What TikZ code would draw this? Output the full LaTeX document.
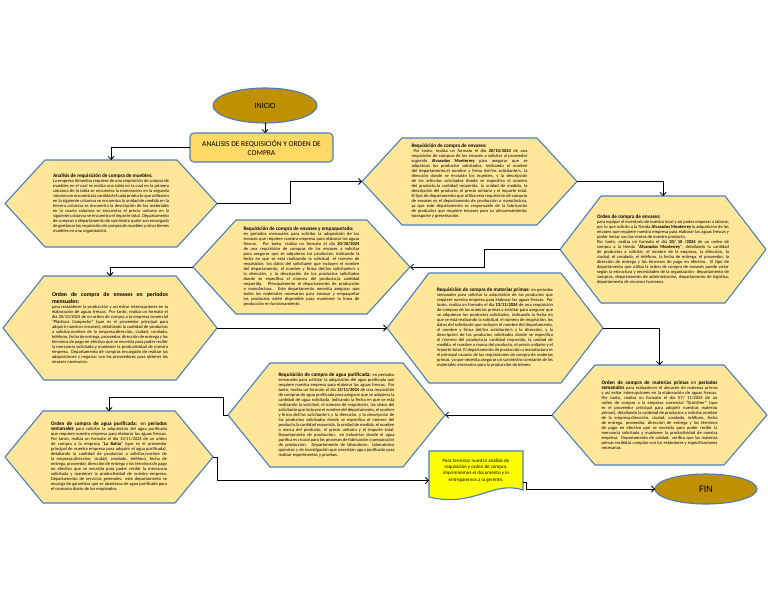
\documentclass[tikz,border=0pt]{standalone}
\usepackage{fontspec}
\setmainfont{Carlito}
\usepackage{xcolor}
\usetikzlibrary{shapes.geometric,backgrounds,calc,arrows.meta}
\definecolor{hexfill}{RGB}{255,230,153}
\definecolor{hexline}{RGB}{74,126,187}
\definecolor{boxfill}{RGB}{255,217,102}
\definecolor{ovalfill}{RGB}{191,144,0}
\definecolor{notefill}{RGB}{255,255,0}
\tolerance=9999
\emergencystretch=8pt
\hyphenpenalty=10000

\begin{document}
\begin{tikzpicture}[x=1pt,y=1pt,yscale=-1,xscale=1,
	hexnode/.style={rectangle,inner sep=0pt,outer sep=0pt,text width=116pt,align=justify,font=\fontsize{4.5}{5}\selectfont},
	hexa/.style={draw=hexline,fill=hexfill,line width=1.1pt,line join=round},
	oval/.style={ellipse,draw=hexline,fill=ovalfill,line width=1.1pt,inner sep=0pt,outer sep=0pt},
	conn/.style={line width=0.8pt,-{Straight Barb[length=3pt,width=6pt]}}]
	\useasboundingbox (0,0) rectangle (768,594);
	
	% Terminal: inicio
	\node [oval,minimum width=104pt,minimum height=35pt,font=\fontsize{8}{9}\selectfont] (inicio) at (265,105.5) {INICIO};
	% Text Node
	\node [draw=hexline,fill=boxfill,line width=1.1pt,rounded corners=4pt,minimum width=143pt,minimum height=29pt,inner sep=0pt,outer sep=0pt,align=center,font=\fontsize{7.5}{9}\selectfont] (analisis) at (261.5,147.5) {ANALISIS DE REQUISICIÓN Y ORDEN DE\\COMPRA};
	
	% Text Node
	\node [hexnode,minimum width=212pt,minimum height=87pt] (muebles) at (111,203.5) {{\bfseries\fontsize{5.2}{6}\selectfont Analisis de requisición de compra de muebles:}\par
		La empresa Aimedina requiere de una requisición de compra de muebles en el cual se realiza una tabla en la cual en la primera columna de la tabla se encuentra la numeración en la segunda columna se encuentra la cantidad el cada producto que utilizaron en la siguiente columna se encuentra la unidad de medida en la tercera columna se encuentra la descripción de los materiales en la cuarta columna se encuentra el precio unitario en la siguiente columna se encuentra el importe total. Departamento de compras o departamento de suministro quién son encargado de gestionar las requisición de compra de muebles y otros bienes muebles en una organización.};
	% Text Node
	\node [hexnode,minimum width=215pt,minimum height=87pt] (envases) at (469.5,181.5) {{\bfseries\fontsize{5.2}{6}\selectfont Requisición de compra de envases:}\par
		\hspace*{2pt}Por tanto, realiza un formato el día \textbf{20/10/2024} de una requisición de compras de los envases a solicitar al proveedor sugerido \textbf{Alvarados Monterrey} para asegurar que se adquieran los productos solicitados, indicando el nombre del departamento,el nombre y firma del/los solicitante/s, la dirección donde se enviarán los muebles, y la descripción de los artículos solicitados donde se especifica el número del producto,la cantidad requerida, la unidad de medida, la descripción del producto, el precio unitario y el importe total. El tipo de departamento que utiliza esta requisición de compras de envases es el departamento de producción o manufactura, ya que este departamento es responsable de la fabricación de productos que requiere envases para su almacenamiento, transporte y presentación.};
	% Text Node
	\node [hexnode,text width=132pt,minimum width=206pt,minimum height=107pt] (ordenvases) at (663,249.5) {{\bfseries\fontsize{5.2}{6}\selectfont Orden de compra de envases:}\par
		para equipar el inventario de nuestro local y así poder empezar a laborar, por lo que solicito a la Tienda \textbf{Alvarados Monterrey} la adquisición de los envases que requiere nuestra empresa para elaborar las aguas frescas y poder iniciar con las ventas de nuestro producto.\par
		Por tanto, realiza un formato el día \textbf{20/ 10 /2024} de un orden de compra a la tienda “\textbf{Alvarados Monterrey}”, detallando la cantidad de productos a solicitar, el nombre de la empresa, la dirección, la ciudad, el condado, el teléfono, la fecha de entrega, el proveedor, la dirección de entrega y los términos de pago en efectivo. El tipo de departamento que utiliza la orden de compra de envases puede variar según la estructura y necesidades de la organización: departamento de compras, departamento de administración, departamento de logística, departamento de recursos humanos.};
	% Text Node
	\node [hexnode,minimum width=217pt,minimum height=94pt] (empaque) at (301.5,267) {{\bfseries\fontsize{5.2}{6}\selectfont Requisición de compra de envases y empaquetado:}\par
		en periodos mensuales para solicitar la adquisición de los envases que requiere nuestra empresa para elaborar las aguas frescas. Por tanto, realiza un formato el día \textbf{20/10/2024} de una requisición de compras de los envases a solicitar para asegurar que se adquieran los productos, indicando la fecha en que se está realizando la solicitud, el número de requisición, los datos del solicitante que incluyen el nombre del departamento, el nombre y firma del/los solicitante/s y la dirección, y la descripción de los productos solicitados donde se especifica el número del producto,la cantidad requerida. Principalmente el departamento de producción o manufactura. Este departamento necesita asegurar que todos los materiales necesarios para envasar y empaquetar los productos estén disponible para mantener la línea de producción en funcionamiento.};
	% Text Node
	\node [hexnode,minimum width=214pt,minimum height=104pt] (mensual) at (110,328) {{\bfseries\fontsize{5.8}{7}\selectfont Orden de compra de envases en periodos mensuales:\par}
		para restablecer la producción y así evitar interrupciones en la elaboración de aguas frescas. Por tanto, realiza un formato el día 20/10/2024 de un orden de compra a la empresa comercial “Plásticos Campeche” (que es el proveedor principal para adquirir nuestros envases), detallando la cantidad de productos a solicitar,nombre de la empresa,dirección, ciudad, condado, teléfono, fecha de entrega, proveedor, dirección de entrega y los términos de pago en efectivo que se necesita para poder recibir la mercancía solicitada y mantener la productividad de nuestra empresa. Departamento de compras encargado de realizar las adquisiciones y negociar con los proveedores para obtener los envases necesarios.};
	% Text Node
	\node [hexnode,minimum width=216pt,minimum height=110pt] (materias) at (495,328) {{\bfseries\fontsize{5.2}{6}\selectfont Requisición de compra de materias primas:} en periodos semanales para solicitar la adquisición de los productos que requiere nuestra empresa para elaborar las aguas frescas. Por tanto, realiza un formato el día \textbf{13/11/2024} de una requisición de compras de las materias primas a solicitar para asegurar que se adquieran los productos solicitados, indicando la fecha en que se está realizando la solicitud, el número de requisición, los datos del solicitante que incluyen el nombre del departamento, el nombre y firma del/los solicitante/s y la dirección, y la descripción de los productos solicitados donde se especifica el número del producto,la cantidad requerida, la unidad de medida, el nombre o marca del producto, el precio unitario y el importe total. El departamento de producción o manufactura es el principal usuario de las requisiciones de compra de materias primas, ya que necesita asegurar un suministro constante de los materiales necesarios para la producción de bienes.};
	% Text Node
	\node [hexnode,minimum width=215pt,minimum height=100pt] (ordmaterias) at (659.5,415) {{\bfseries\fontsize{5.2}{6}\selectfont Orden de compra de materias primas} {\fontsize{5.2}{6}\selectfont en} {\bfseries\fontsize{5.2}{6}\selectfont periodos semanales} para reabastecer el almacén de materias primas y así evitar interrupciones en la elaboración de aguas frescas. Por tanto, realiza un formato el día 07/ 11/2024 de un orden de compra a la empresa comercial “Drolsther” (que es el proveedor principal para adquirir nuestras materias primas), detallando la cantidad de productos a solicitar,nombre de la empresa,dirección, ciudad, condado, teléfono, fecha de entrega, proveedor, dirección de entrega y los términos de pago en efectivo que se necesita para poder recibir la mercancía solicitada y mantener la productividad de nuestra empresa. Departamento de calidad: verifica que las materias primas recibidas cumplan con los estándares y especificaciones necesarias.};
	% Text Node
	\node [hexnode,minimum width=217pt,minimum height=104pt] (agua) at (336.5,415) {{\bfseries\fontsize{5.2}{6}\selectfont Requisición de compra de agua purificada:} en periodos semanales para solicitar la adquisición del agua purificada que requiere nuestra empresa para elaborar las aguas frescas. Por tanto, realiza un formato el día \textbf{13/11/2024} de una requisición de compras de agua purificada para asegurar que se adquiera la cantidad de agua solicitada, indicando la fecha en que se está realizando la solicitud, el número de requisición, los datos del solicitante que incluyen el nombre del departamento, el nombre y firma del/los solicitante/s y la dirección, y la descripción de los productos solicitados donde se especifica el número del producto,la cantidad requerida, la unidad de medida, el nombre o marca del producto, el precio unitario y el importe total. Departamento de producción: en industrias donde el agua purifica es crucial para los procesos de fabricación o preparación de producción. Departamento de laboratorio: laboratorios químicos y de investigación que necesitan agua purificada para realizar experimentos y pruebas.};
	% Text Node
	\node [hexnode,minimum width=208pt,minimum height=92pt] (ordagua) at (109,457) {{\bfseries\fontsize{5.2}{6}\selectfont Orden de compra de agua purificada:} {\fontsize{5.2}{6}\selectfont en} {\bfseries\fontsize{5.2}{6}\selectfont periodos semanales} para solicitar la adquisición del agua purificada que requiere nuestra empresa para elaborar las aguas frescas. Por tanto, realiza un formato el día 13/11/2024 de un orden de compra a la empresa “\textbf{La Bahía}” (que es el proveedor principal de nuestra empresa para adquirir el agua purificada), detallando la cantidad de productos a solicitar,nombre de la empresa,dirección, ciudad, condado, teléfono, fecha de entrega, proveedor, dirección de entrega y los términos de pago en efectivo que se necesita para poder recibir la mercancía solicitada y mantener la productividad de nuestra empresa. Departamento de servicios generales: este departamento se encarga de garantizar que se abastezca de agua purificada para el consumo diario de los empleados.};
	
	% Text Node
	\node [rectangle,minimum width=94pt,minimum height=39pt,inner sep=0pt,outer sep=0pt,align=center,font=\fontsize{5}{6.3}\selectfont] (nota) at (476,470.5) {Para terminar nuestro análisis de\\requisición y orden de compra,\\imprimiremos el documento y lo\\entregaremos a la gerente.};
	% Terminal: fin
	\node [oval,minimum width=102pt,minimum height=30pt,font=\fontsize{10}{11}\selectfont] (fin) at (706,489) {FIN};
	
	%Shape: Hexagons behind the texts
	\begin{scope}[on background layer]
		\draw [hexa] (muebles.west) -- ([xshift=40pt]muebles.north west) -- ([xshift=-40pt]muebles.north east) -- (muebles.east) -- ([xshift=-40pt]muebles.south east) -- ([xshift=40pt]muebles.south west) -- cycle;
		\draw [hexa] (envases.west) -- ([xshift=40pt]envases.north west) -- ([xshift=-40pt]envases.north east) -- (envases.east) -- ([xshift=-40pt]envases.south east) -- ([xshift=40pt]envases.south west) -- cycle;
		\draw [hexa] (ordenvases.west) -- ([xshift=41pt]ordenvases.north west) -- ([xshift=-41pt]ordenvases.north east) -- (ordenvases.east) -- ([xshift=-41pt]ordenvases.south east) -- ([xshift=41pt]ordenvases.south west) -- cycle;
		\draw [hexa] (empaque.west) -- ([xshift=43pt]empaque.north west) -- ([xshift=-43pt]empaque.north east) -- (empaque.east) -- ([xshift=-43pt]empaque.south east) -- ([xshift=43pt]empaque.south west) -- cycle;
		\draw [hexa] (mensual.west) -- ([xshift=41pt]mensual.north west) -- ([xshift=-41pt]mensual.north east) -- (mensual.east) -- ([xshift=-41pt]mensual.south east) -- ([xshift=41pt]mensual.south west) -- cycle;
		\draw [hexa] (materias.west) -- ([xshift=42pt]materias.north west) -- ([xshift=-42pt]materias.north east) -- (materias.east) -- ([xshift=-42pt]materias.south east) -- ([xshift=42pt]materias.south west) -- cycle;
		\draw [hexa] (ordmaterias.west) -- ([xshift=43pt]ordmaterias.north west) -- ([xshift=-43pt]ordmaterias.north east) -- (ordmaterias.east) -- ([xshift=-43pt]ordmaterias.south east) -- ([xshift=43pt]ordmaterias.south west) -- cycle;
		\draw [hexa] (agua.west) -- ([xshift=42pt]agua.north west) -- ([xshift=-42pt]agua.north east) -- (agua.east) -- ([xshift=-42pt]agua.south east) -- ([xshift=42pt]agua.south west) -- cycle;
		\draw [hexa] (ordagua.west) -- ([xshift=38pt]ordagua.north west) -- ([xshift=-38pt]ordagua.north east) -- (ordagua.east) -- ([xshift=-38pt]ordagua.south east) -- ([xshift=38pt]ordagua.south west) -- cycle;
		%Shape: Document
		\draw [draw=hexline,fill=notefill,line width=1.1pt] (nota.north west) -- (nota.north east) -- (nota.south east) .. controls ($(nota.south east)+(-30,-10)$) and ($(nota.south west)+(45,18)$) .. ($(nota.south west)+(0,7)$) -- cycle;
	\end{scope}
	
	%Connectors
	\draw [conn] (inicio.south) -- (inicio.south |- analisis.north);
	\draw [conn] (analisis.west) -| (muebles.north);
	\draw [conn] (muebles.east) -- ++(73,0) |- (envases.west);
	\draw [conn] (envases.east) -| (ordenvases.north);
	\draw [conn] (ordenvases.west) -- ++(-76,0) |- (empaque.east);
	\draw [conn] (empaque.west) -| (mensual.north);
	\draw [conn] (mensual.east) -- (materias.west);
	\draw [conn] (materias.east) -| (ordmaterias.north);
	\draw [conn] (ordmaterias.west) -- (agua.east);
	\draw [conn] (agua.west) -- ++(-5,0) -- ++(0,-18) -| (ordagua.north);
	\draw [conn] (ordagua.east) -- ++(4,0) |- ($(nota.west)+(0,10)$);
	\draw [conn] ($(nota.east)+(0,12)$) -- ++(3,0) |- (fin.west);
\end{tikzpicture}
\end{document}
